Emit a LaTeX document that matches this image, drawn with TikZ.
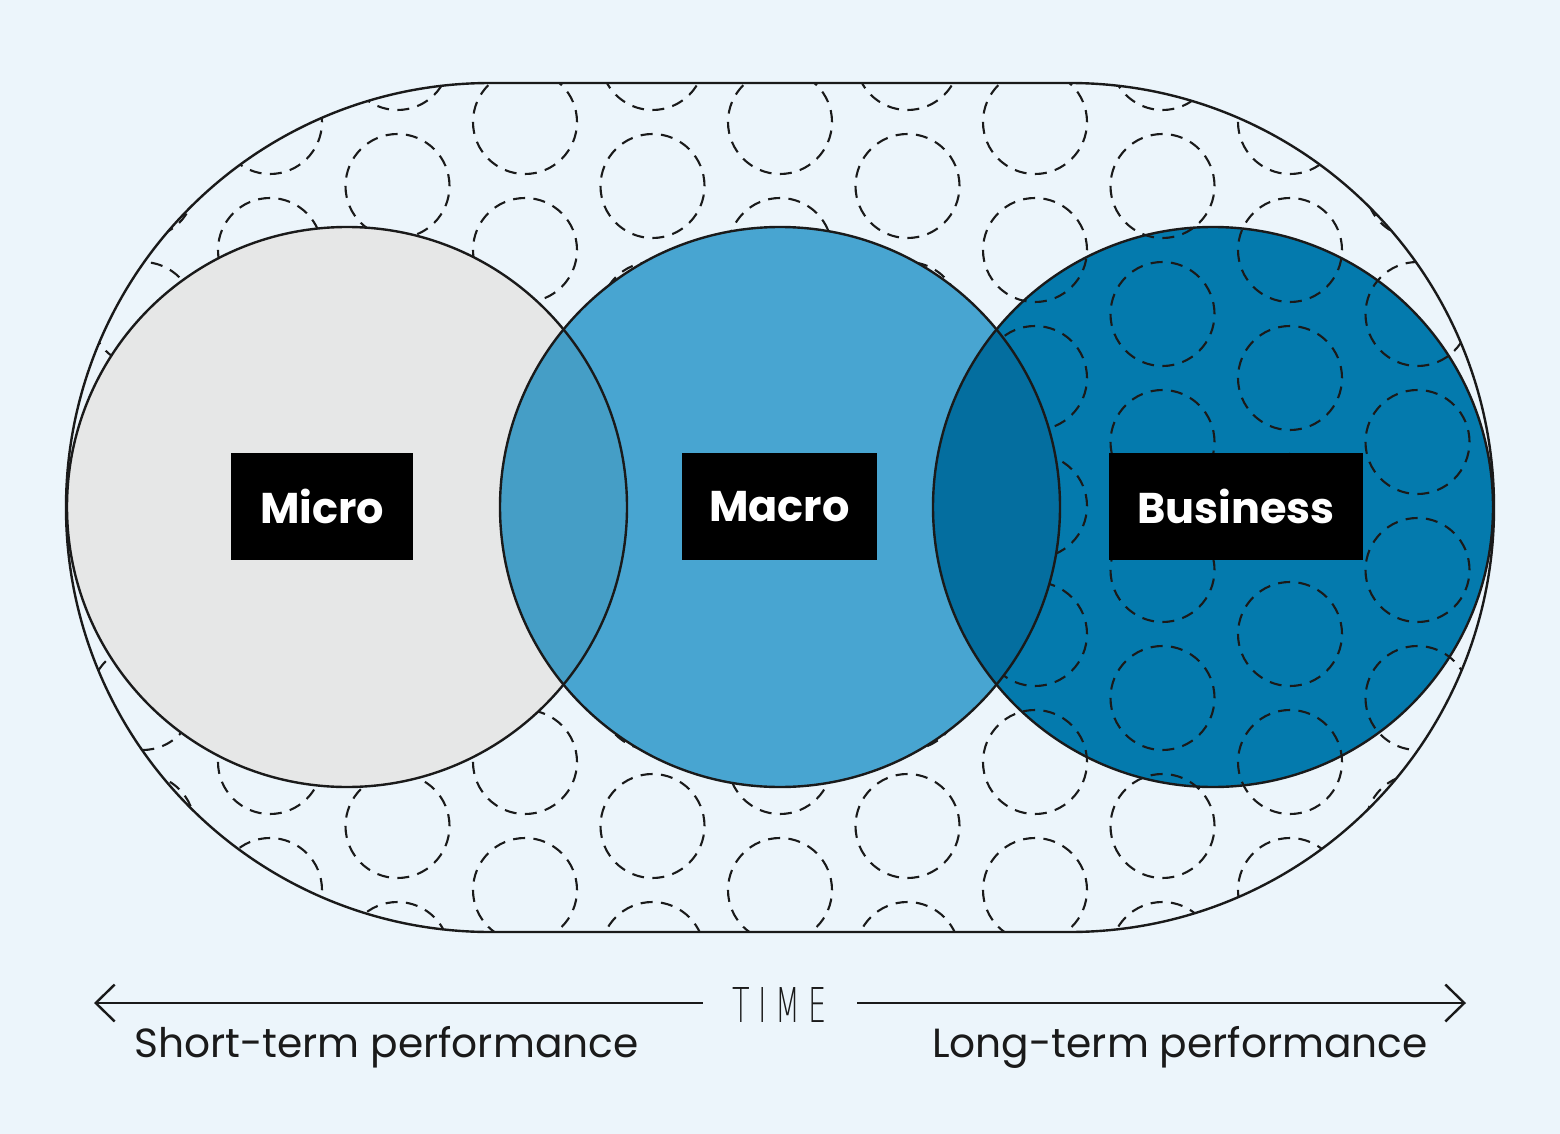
\documentclass[tikz,border=0pt]{standalone}
\usepackage{fontspec}
\usetikzlibrary{arrows.meta}
\newfontfamily\popfont{Poppins}
\newfontfamily\timefont{DejaVu Sans ExtraLight}
\definecolor{bgc}{HTML}{ECF5FB}
\definecolor{microc}{HTML}{E6E7E7}
\definecolor{macroc}{HTML}{48A5D1}
\definecolor{lensa}{HTML}{459EC6}
\definecolor{busc}{HTML}{047AAD}
\definecolor{lensb}{HTML}{046E9F}
\definecolor{inkc}{HTML}{1A1A1A}
\begin{document}
\begin{tikzpicture}[x=1pt,y=-1pt,
  dcirc/.style={draw=inkc,line width=2.1pt,dash pattern=on 12pt off 8.4pt},
  outl/.style={draw=inkc,line width=2.4pt},
  labelbox/.style={fill=black,text=white,inner sep=0pt,minimum height=107pt,
    font=\popfont\bfseries\fontsize{43}{48}\selectfont},
  bottomtext/.style={inner sep=0pt,text=inkc,font=\popfont\fontsize{40.7}{46}\selectfont},
  timearrow/.style={draw=inkc,line width=2.4pt,-{Straight Barb[length=19pt,width=37pt]}}]
\useasboundingbox (0,0) rectangle (1560,1134);
\fill[bgc] (0,0) rectangle (1560,1134);
\def\mypattern{%
  \foreach \j in {0,2,...,14}{\foreach \k in {0,...,5}{\draw[dcirc] ({142.5+255*\k},{58+64*\j}) circle (52pt);}}%
  \foreach \j in {1,3,...,13}{\foreach \k in {0,...,6}{\draw[dcirc] ({15+255*\k},{58+64*\j}) circle (52pt);}}%
}
% pattern inside the stadium
\begin{scope}
  \clip[rounded corners=424.5pt] (66,83) rectangle (1494,932);
  \mypattern
\end{scope}
% circles
\fill[microc] (347,507) circle (280pt);
\fill[macroc] (780,507) circle (280pt);
\fill[busc] (1213,507) circle (280pt);
\begin{scope}
  \clip (1213,507) circle (280pt);
  \mypattern
\end{scope}
\begin{scope}
  \clip (780,507) circle (280pt);
  \fill[lensa] (347,507) circle (280pt);
  \fill[lensb] (1213,507) circle (280pt);
\end{scope}
% outlines
\draw[outl,rounded corners=424.5pt] (66,83) rectangle (1494,932);
\draw[outl] (347,507) circle (280pt);
\draw[outl] (780,507) circle (280pt);
\draw[outl] (1213,507) circle (280pt);
% labels
\node[labelbox,minimum width=182pt] (micro) at (322,506.5) {Micro};
\node[labelbox,minimum width=195pt] (macro) at (779.5,506.5) {Macro};
\node[labelbox,minimum width=254pt] (business) at (1236,506.5) {Business};
% time axis
\coordinate (lt) at (94,1003);
\coordinate (rt) at (1466,1003);
\node[inner sep=0pt,minimum width=154pt,text=inkc] (time) at (780,1004.5)
  {\scalebox{0.6}[1]{\timefont\fontsize{48}{50}\selectfont T\kern14pt I\kern14pt M\kern14pt E}};
\draw[timearrow] (time.west |- lt) -- (lt);
\draw[timearrow] (time.east |- rt) -- (rt);
\node[bottomtext,anchor=base west] (short) at (134,1057) {Short-term performance};
\node[bottomtext,anchor=base east] (long) at (1428,1057) {Long-term performance};
\end{tikzpicture}
\end{document}
